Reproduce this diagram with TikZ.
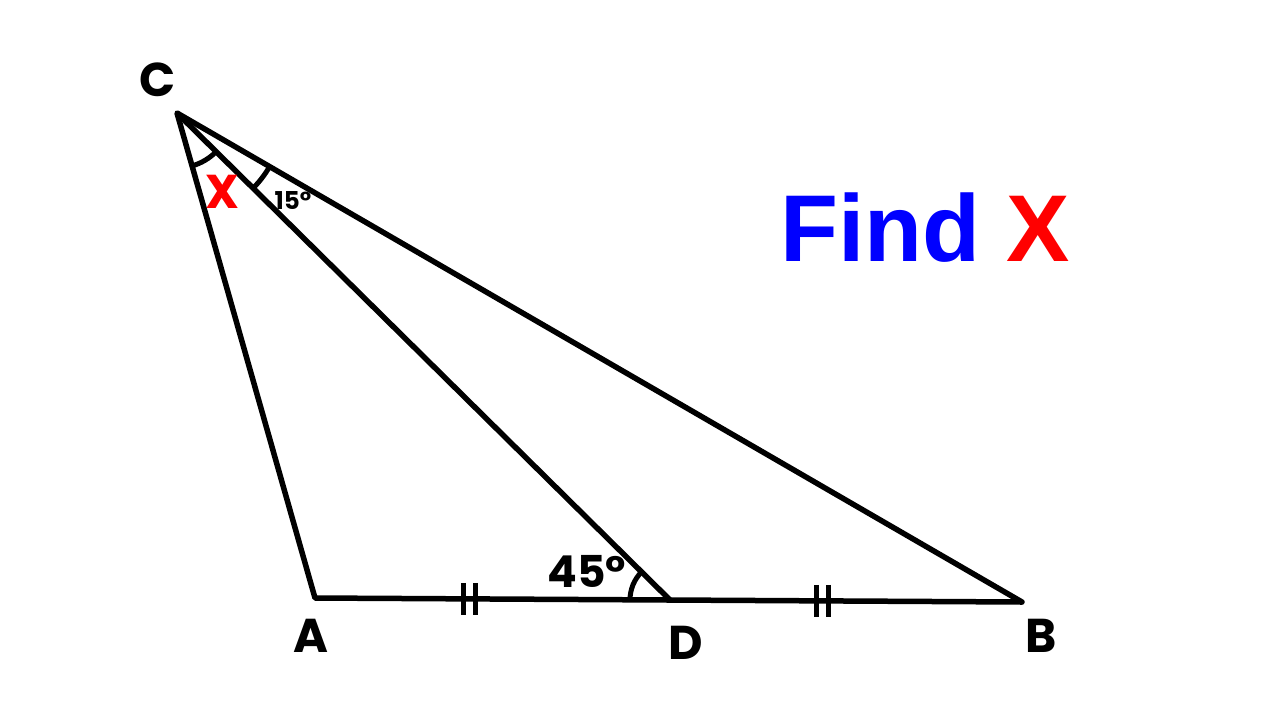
\documentclass[tikz,border=0pt]{standalone}
\usepackage{fontspec}
\setmainfont{Liberation Sans}
\newfontfamily\lblfont{Poppins}
\usetikzlibrary{calc,angles}

\begin{document}
\begin{tikzpicture} [x=0.02cm,y=-0.02cm,
  side/.style= {line width=5.5*0.02cm,line join=round},
  vlabel/.style= {font=\lblfont\bfseries\fontsize{27}{27}\selectfont,inner sep=0},
  arcmark/.style= {draw,line width=5*0.02cm}]
\useasboundingbox (0,0) rectangle (1280,720);
\coordinate (C) at (177,113);
\coordinate (A) at (315,598);
\coordinate (D) at (670,600);
\coordinate (B) at (1022,602);

\draw[side] (C) -- (A) -- (B) -- cycle;
\draw[side] (C) -- (D);

% equal parts
\foreach \p/\q/\t in {A/D/0.434, D/B/0.432}{%
  \coordinate (m) at ($(\p)!\t!(\q)$);
  \foreach \s in {-6,6}{%
	\draw[line width=5*0.02cm] ($(m)+(\s,-16)$) -- ($(m)+(\s,16)$);}  }

\pic[arcmark,angle radius=55*0.02cm] {angle = A--C--D};
\pic[arcmark,angle radius=107*0.02cm] {angle = D--C--B};
\pic[arcmark,angle radius=40*0.02cm] {angle = C--D--A};

\node[vlabel] (lC) at (158,80) {C};
\node[vlabel] (lA) at (311,636) {A};
\node[vlabel] (lD) at (686,643) {D};
\node[vlabel] (lB) at (1041,636) {B};
\node[vlabel,red] (lX) at (222,192) {X};
\node[inner sep=0,font=\lblfont\bfseries\fontsize{14}{14}\selectfont] (l15) at (293,201) {15°};
\node[inner sep=0,font=\lblfont\bfseries\fontsize{25}{25}\selectfont] (l45) at (587,571) {45°};
\node[inner sep=0,font=\bfseries\fontsize{54}{54}\selectfont] (title) at (925,228) {\textcolor{blue}{Find} \textcolor{red}{X}};
\end{tikzpicture}
\end{document}
